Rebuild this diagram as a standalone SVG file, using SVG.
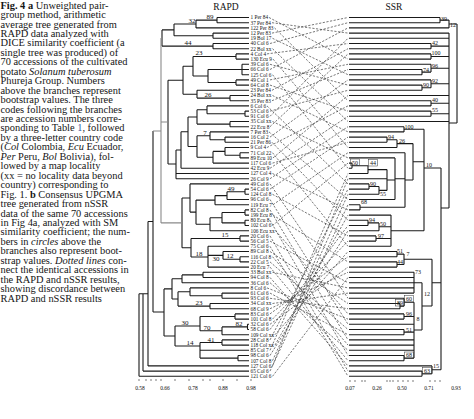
<svg xmlns="http://www.w3.org/2000/svg" width="474" height="419" viewBox="0 0 474 419">
<style>
.cap{font-family:"Liberation Serif","Times New Roman",serif;font-size:10.4px;fill:#151515}
.b{font-weight:bold}
.i{font-style:italic}
.lf{font-family:"Liberation Serif","Times New Roman",serif;font-size:5.3px;fill:#111}
.bs{font-family:"Liberation Serif","Times New Roman",serif;font-size:7px;fill:#111;text-anchor:middle}
.bs2{font-family:"Liberation Serif","Times New Roman",serif;font-size:6px;fill:#111;text-anchor:middle}
.ax{font-family:"Liberation Serif","Times New Roman",serif;font-size:5.5px;fill:#111;text-anchor:middle}
.hd{font-family:"Liberation Serif","Times New Roman",serif;font-size:9.5px;fill:#111;text-anchor:middle}
.tr{fill:none;stroke:#1a1a1a;stroke-width:1.1}
.gr{fill:none;stroke:#8a8a8a;stroke-width:1.1}
.tk{fill:none;stroke:#444;stroke-width:0.7}
.dl{stroke:#2e2e2e;stroke-width:0.65;stroke-dasharray:2.2 1.5}
.bx{fill:none;stroke:#333;stroke-width:0.5}
</style>
<rect width="474" height="419" fill="#fff"/>

<g id="caption">
<text class="cap">
<tspan x="0.5" y="8.6"><tspan class="b">Fig. 4</tspan> <tspan class="b">a</tspan> Unweighted pair-</tspan>
<tspan x="0.5" y="18.05">group method, arithmetic</tspan>
<tspan x="0.5" y="27.5">average tree generated from</tspan>
<tspan x="0.5" y="36.95">RAPD data analyzed with</tspan>
<tspan x="0.5" y="46.4">DICE similarity coefficient (a</tspan>
<tspan x="0.5" y="55.85">single tree was produced) of</tspan>
<tspan x="0.5" y="65.3">70 accessions of the cultivated</tspan>
<tspan x="0.5" y="74.75">potato <tspan class="i">Solanum tuberosum</tspan></tspan>
<tspan x="0.5" y="84.2">Phureja Group. Numbers</tspan>
<tspan x="0.5" y="93.65">above the branches represent</tspan>
<tspan x="0.5" y="103.1">bootstrap values. The three</tspan>
<tspan x="0.5" y="112.55">codes following the branches</tspan>
<tspan x="0.5" y="122">are accession numbers corre-</tspan>
<tspan x="0.5" y="131.45">sponding to Table <tspan fill="#3b5ba5">1</tspan>, followed</tspan>
<tspan x="0.5" y="140.9">by a three-letter country code</tspan>
<tspan x="0.5" y="150.35">(<tspan class="i">Col</tspan> Colombia, <tspan class="i">Ecu</tspan> Ecuador,</tspan>
<tspan x="0.5" y="159.8"><tspan class="i">Per</tspan> Peru, <tspan class="i">Bol</tspan> Bolivia), fol-</tspan>
<tspan x="0.5" y="169.25">lowed by a map locality</tspan>
<tspan x="0.5" y="178.7">(xx = no locality data beyond</tspan>
<tspan x="0.5" y="188.15">country) corresponding to</tspan>
<tspan x="0.5" y="197.6">Fig. 1. <tspan class="b">b</tspan> Consensus UPGMA</tspan>
<tspan x="0.5" y="207.05">tree generated from nSSR</tspan>
<tspan x="0.5" y="216.5">data of the same 70 accessions</tspan>
<tspan x="0.5" y="225.95">in Fig 4a, analyzed with SM</tspan>
<tspan x="0.5" y="235.4">similarity coefficient; the num-</tspan>
<tspan x="0.5" y="244.85">bers in <tspan class="i">circles</tspan> above the</tspan>
<tspan x="0.5" y="254.3">branches also represent boot-</tspan>
<tspan x="0.5" y="263.75">strap values. <tspan class="i">Dotted lines</tspan> con-</tspan>
<tspan x="0.5" y="273.2">nect the identical accessions in</tspan>
<tspan x="0.5" y="282.65">the RAPD and nSSR results,</tspan>
<tspan x="0.5" y="292.1">showing discordance between</tspan>
<tspan x="0.5" y="301.55">RAPD and nSSR results</tspan>
</text>
</g>

<g id="headers">
<text class="hd" x="226" y="9.5">RAPD</text>
<text class="hd" x="394" y="9.5">SSR</text>
</g>

<g id="connectors">
<g id="rapd-tree">
<path class="tr" d="M217 17.5V22.7M217 17.5H249M217 22.7H249M196 20.1V27.9M196 20.1H217M196 27.9H249M213 33.1V38.3M213 33.1H249M213 38.3H249M174 24V35.7M174 24H196M174 35.7H213M213 43.5V48.7M213 43.5H249M213 48.7H249M162 29.9V46.1M162 29.9H174M162 46.1H213
M236 53.9V59.1M236 53.9H249M236 59.1H249M242 64.3V74.7M242 64.3H249M242 69.5H249M242 74.7H249M236 79.9V85.1M236 79.9H249M236 85.1H249M208 69.5V82.5M208 69.5H242M208 82.5H236M193 56.5V76M193 56.5H236M193 76H208M230 95.5V100.7M230 95.5H249M230 100.7H249M197 90.3V98.1M197 90.3H249M197 98.1H230M183 66.2V94.2M183 66.2H193M183 94.2H197
M245 111.1V116.3M245 111.1H249M245 116.3H249M207 105.9V113.7M207 105.9H249M207 113.7H245M230 121.5V126.7M230 121.5H249M230 126.7H249M197 109.8V124.1M197 109.8H207M197 124.1H230M225 137.1V142.3M225 137.1H249M225 142.3H249M210 131.9V139.7M210 131.9H249M210 139.7H225M240 152.7V157.9M240 152.7H249M240 157.9H249M225 147.5V155.3M225 147.5H249M225 155.3H240M213 151.4V163.1M213 151.4H225M213 163.1H249M197 135.8V157.3M197 135.8H210M197 157.3H213M188 117V146.5M188 117H197M188 146.5H197M181 131.8V168.3M181 131.8H188M181 168.3H249M176 150V178.7M176 150H181M176 173.5H249M176 178.7H249M168 80.2V164M168 80.2H183M168 164H176
M245 189.1V194.3M245 189.1H249M245 194.3H249M227 191.7V199.5M227 191.7H245M227 199.5H249M215 195.6V204.7M215 195.6H227M215 204.7H249M245 209.9V215.1M245 209.9H249M245 215.1H249M245 220.3V225.5M245 220.3H249M245 225.5H249M222 212.5V222.9M222 212.5H245M222 222.9H245M210 217.7V230.7M210 217.7H222M210 230.7H249M196 200.1V224.2M196 200.1H215M196 224.2H210M190 183.9V212.1M190 183.9H249M190 212.1H196
M240 235.9V241.1M240 235.9H249M240 241.1H249M240 256.7V261.9M240 256.7H249M240 261.9H249M223 251.5V259.3M223 251.5H249M223 259.3H240M208 246.3V267.1M208 246.3H249M208 255.4H223M208 267.1H249M191 238.5V257M191 238.5H240M191 257H208M182 198V247.7M182 198H190M182 247.7H191
M203 272.3V277.5M203 272.3H249M203 277.5H249M182 274.9V282.7M182 274.9H203M182 282.7H249M222 293.1V298.3M222 293.1H249M222 298.3H249M190 287.9V295.7M190 287.9H249M190 295.7H222M210 303.5V308.7M210 303.5H249M210 308.7H249M178 291.8V306.1M178 291.8H190M178 306.1H210M172 278.8V299M172 278.8H182M172 299H178
M235 313.9V319.1M235 313.9H249M235 319.1H249M247.5 324.3V329.5M247.5 324.3H249M247.5 329.5H249M222 326.9V334.7M222 326.9H247.5M222 334.7H249M200 316.5V330.8M200 316.5H235M200 330.8H222M222 339.9V345.1M222 339.9H249M222 345.1H249M238 355.5V360.7M238 355.5H249M238 360.7H249M200 342.5V358.1M200 342.5H222M200 350.3H249M200 358.1H238M175 326V346M175 326H200M175 346H200M164 288.9V336M164 288.9H172M164 336H175
M153 131V312M153 312H164M148 221.5V365.9M148 221.5H153M148 365.9H249M143 293.7V371.1M143 293.7H148M143 371.1H249M139 293.7V376.3M139 293.7H143M139 376.3H249"/>
<path class="gr" d="M161 38V222.9M161 38H162M161 122H168M161 222.9H182M153 131H161"/>
</g>

<g id="ssr-tree">
<path class="tr" d="M440 17.5V22.7M349 17.5H440M349 22.7H440M449 20.1V27.9M440 20.1H449M349 27.9H449M457 24V123M449 24H457M449 123H457
M449 33.1V208M349 33.1H449M349 38.3H449M431 46.1H449M431 56.5H449M431 68.2H449M431 83.8H449M349 95.5H449M431 103.3H449M431 113.7H449M349 121.5H449M441 208H449
M431 43.5V48.7M349 43.5H431M349 48.7H431M431 53.9V59.1M349 53.9H431M349 59.1H431M422 69.5V74.7M349 69.5H422M349 74.7H422M431 64.3V72.1M349 64.3H431M422 72.1H431M422 85.1V90.3M349 85.1H422M349 90.3H422M431 79.9V87.7M349 79.9H431M422 87.7H431M431 100.7V105.9M349 100.7H431M349 105.9H431M431 111.1V116.3M349 111.1H431M349 116.3H431
M441 168V369.8M424 168H441M432 282.7H441M432 369.8H441M424 129.3V230.7M404 129.3H424M413 161.8H424M391 230.7H424
M404 126.7V131.9M349 126.7H404M349 131.9H404M387 137.1V142.3M349 137.1H387M349 142.3H387M397 139.7V147.5M387 139.7H397M349 147.5H397
M352 163.1V168.3M349 163.1H352M349 168.3H352M368 165.7V173.5M352 165.7H368M349 173.5H368M369 183.9V189.1M349 183.9H369M349 189.1H369M379 186.5V194.3M369 186.5H379M349 194.3H379M360 204.7V209.9M349 204.7H360M349 209.9H360
M387 169.6V190.4M368 169.6H387M349 178.7H387M379 190.4H387M395 157.9V199.5M349 157.9H395M387 180H395M349 199.5H395M405 152.7V207.3M349 152.7H405M395 178.7H405M360 207.3H405M413 143.6V180M397 143.6H413M405 180H413
M368 220.3V225.5M349 220.3H368M349 225.5H368M379 222.9V230.7M368 222.9H379M349 230.7H379M376 235.9V241.1M349 235.9H376M349 241.1H376M391 215.1V246.3M349 215.1H391M379 226.8H391M376 238.5H391M349 246.3H391
M397 251.5V256.7M349 251.5H397M349 256.7H397M397 261.9V267.1M349 261.9H397M349 267.1H397M404 254.1V264.5M397 254.1H404M397 264.5H404
M414 272.3V293.1M349 272.3H414M349 277.5H414M349 282.7H414M349 287.9H414M349 293.1H414
M400 303.5V308.7M349 303.5H400M349 308.7H400M404 298.3V306.1M349 298.3H404M400 306.1H404M404 313.9V319.1M349 313.9H404M349 319.1H404M404 329.5V334.7M349 329.5H404M349 334.7H404M404 355.5V360.7M349 355.5H404M349 360.7H404
M414 302.2V358.1M404 302.2H414M404 316.5H414M349 324.3H414M404 332.1H414M349 339.9H414M349 345.1H414M349 350.3H414M404 358.1H414
M422 282.7V330M414 282.7H422M414 330H422M432 259.3V306M404 259.3H432M422 306H432M422 371.1V376.3M349 371.1H422M349 376.3H422M432 365.9V373.7M349 365.9H432M422 373.7H432"/>
</g>

<g id="dotted-links">
<line class="dl" x1="269" y1="17.5" x2="348" y2="59.1"/>
<line class="dl" x1="272" y1="22.7" x2="348" y2="33.1"/>
<line class="dl" x1="274.5" y1="27.9" x2="348" y2="100.7"/>
<line class="dl" x1="272" y1="33.1" x2="348" y2="17.5"/>
<line class="dl" x1="272.5" y1="38.3" x2="348" y2="74.7"/>
<line class="dl" x1="270" y1="43.5" x2="348" y2="22.7"/>
<line class="dl" x1="272.5" y1="48.7" x2="348" y2="121.5"/>
<line class="dl" x1="267" y1="53.9" x2="348" y2="43.5"/>
<line class="dl" x1="273" y1="59.1" x2="348" y2="147.5"/>
<line class="dl" x1="270" y1="64.3" x2="348" y2="85.1"/>
<line class="dl" x1="270" y1="69.5" x2="348" y2="27.9"/>
<line class="dl" x1="272.5" y1="74.7" x2="348" y2="168.3"/>
<line class="dl" x1="270" y1="79.9" x2="348" y2="64.3"/>
<line class="dl" x1="270" y1="85.1" x2="348" y2="111.1"/>
<line class="dl" x1="272" y1="90.3" x2="348" y2="48.7"/>
<line class="dl" x1="272.5" y1="95.5" x2="348" y2="131.9"/>
<line class="dl" x1="272" y1="100.7" x2="348" y2="69.5"/>
<line class="dl" x1="267" y1="105.9" x2="348" y2="183.9"/>
<line class="dl" x1="270" y1="111.1" x2="348" y2="90.3"/>
<line class="dl" x1="270" y1="116.3" x2="348" y2="38.3"/>
<line class="dl" x1="272.5" y1="121.5" x2="348" y2="157.9"/>
<line class="dl" x1="270" y1="126.7" x2="348" y2="53.9"/>
<line class="dl" x1="269" y1="131.9" x2="348" y2="199.5"/>
<line class="dl" x1="270" y1="137.1" x2="348" y2="79.9"/>
<line class="dl" x1="272" y1="142.3" x2="348" y2="220.3"/>
<line class="dl" x1="267" y1="147.5" x2="348" y2="105.9"/>
<line class="dl" x1="272.5" y1="152.7" x2="348" y2="246.3"/>
<line class="dl" x1="273" y1="157.9" x2="348" y2="95.5"/>
<line class="dl" x1="272.5" y1="163.1" x2="348" y2="142.3"/>
<line class="dl" x1="270" y1="168.3" x2="348" y2="116.3"/>
<line class="dl" x1="272.5" y1="173.5" x2="348" y2="209.9"/>
<line class="dl" x1="270" y1="178.7" x2="348" y2="126.7"/>
<line class="dl" x1="270" y1="183.9" x2="348" y2="298.3"/>
<line class="dl" x1="270" y1="189.1" x2="348" y2="137.1"/>
<line class="dl" x1="272.5" y1="194.3" x2="348" y2="235.9"/>
<line class="dl" x1="270" y1="199.5" x2="348" y2="324.3"/>
<line class="dl" x1="273" y1="204.7" x2="348" y2="152.7"/>
<line class="dl" x1="270" y1="209.9" x2="348" y2="339.9"/>
<line class="dl" x1="273" y1="215.1" x2="348" y2="261.9"/>
<line class="dl" x1="270" y1="220.3" x2="348" y2="355.5"/>
<line class="dl" x1="272.5" y1="225.5" x2="348" y2="163.1"/>
<line class="dl" x1="275.5" y1="230.7" x2="348" y2="313.9"/>
<line class="dl" x1="270" y1="235.9" x2="348" y2="371.1"/>
<line class="dl" x1="270" y1="241.1" x2="348" y2="282.7"/>
<line class="dl" x1="270" y1="246.3" x2="348" y2="376.3"/>
<line class="dl" x1="270" y1="251.5" x2="348" y2="303.5"/>
<line class="dl" x1="272.5" y1="256.7" x2="348" y2="345.1"/>
<line class="dl" x1="270" y1="261.9" x2="348" y2="329.5"/>
<line class="dl" x1="270" y1="267.1" x2="348" y2="360.7"/>
<line class="dl" x1="272.5" y1="272.3" x2="348" y2="287.9"/>
<line class="dl" x1="270" y1="277.5" x2="348" y2="365.9"/>
<line class="dl" x1="270" y1="282.7" x2="348" y2="350.3"/>
<line class="dl" x1="267" y1="287.9" x2="348" y2="319.1"/>
<line class="dl" x1="270" y1="293.1" x2="348" y2="334.7"/>
<line class="dl" x1="270" y1="298.3" x2="348" y2="308.7"/>
<line class="dl" x1="272.5" y1="303.5" x2="348" y2="293.1"/>
<line class="dl" x1="270" y1="308.7" x2="348" y2="272.3"/>
<line class="dl" x1="270" y1="313.9" x2="348" y2="256.7"/>
<line class="dl" x1="272.5" y1="319.1" x2="348" y2="241.1"/>
<line class="dl" x1="270" y1="324.3" x2="348" y2="267.1"/>
<line class="dl" x1="270" y1="329.5" x2="348" y2="225.5"/>
<line class="dl" x1="275" y1="334.7" x2="348" y2="251.5"/>
<line class="dl" x1="270" y1="339.9" x2="348" y2="189.1"/>
<line class="dl" x1="275" y1="345.1" x2="348" y2="215.1"/>
<line class="dl" x1="270" y1="350.3" x2="348" y2="173.5"/>
<line class="dl" x1="270" y1="355.5" x2="348" y2="230.7"/>
<line class="dl" x1="272.5" y1="360.7" x2="348" y2="194.3"/>
<line class="dl" x1="272.5" y1="365.9" x2="348" y2="178.7"/>
<line class="dl" x1="270" y1="371.1" x2="348" y2="204.7"/>
<line class="dl" x1="272.5" y1="376.3" x2="348" y2="277.5"/>
</g>
</g>

<g id="rapd-leaves">
<g id="r1"><text class="lf" x="250.5" y="19.3">1 Per 84</text></g>
<g id="r2"><text class="lf" x="250.5" y="24.5">37 Per 84</text></g>
<g id="r3"><text class="lf" x="250.5" y="29.7">122 Per 83</text></g>
<g id="r4"><text class="lf" x="250.5" y="34.9">12 Per 83</text></g>
<g id="r5"><text class="lf" x="250.5" y="40.1">19 Bol 17</text></g>
<g id="r6"><text class="lf" x="250.5" y="45.3">40 Col 6</text></g>
<g id="r7"><text class="lf" x="250.5" y="50.5">22 Bol xx</text></g>
<g id="r8"><text class="lf" x="250.5" y="55.7">4 Col 4</text></g>
<g id="r9"><text class="lf" x="250.5" y="60.9">130 Ecu 9</text></g>
<g id="r10"><text class="lf" x="250.5" y="66.1">39 Col 6</text></g>
<g id="r11"><text class="lf" x="250.5" y="71.3">66 Col 6</text></g>
<g id="r12"><text class="lf" x="250.5" y="76.5">125 Col 6</text></g>
<g id="r13"><text class="lf" x="250.5" y="81.7">49 Col 1</text></g>
<g id="r14"><text class="lf" x="250.5" y="86.9">64 Col 8</text></g>
<g id="r15"><text class="lf" x="250.5" y="92.1">23 Per 84</text></g>
<g id="r16"><text class="lf" x="250.5" y="97.3">24 Bol xx</text></g>
<g id="r17"><text class="lf" x="250.5" y="102.5">35 Per 83</text></g>
<g id="r18"><text class="lf" x="250.5" y="107.7">6 Col 6</text></g>
<g id="r19"><text class="lf" x="250.5" y="112.9">53 Col 6</text></g>
<g id="r20"><text class="lf" x="250.5" y="118.1">91 Col 6</text></g>
<g id="r21"><text class="lf" x="250.5" y="123.3">35 Col xx</text></g>
<g id="r22"><text class="lf" x="250.5" y="128.5">22 Ecu 8</text></g>
<g id="r23"><text class="lf" x="250.5" y="133.7">7 Per 83</text></g>
<g id="r24"><text class="lf" x="250.5" y="138.9">16 Col 2</text></g>
<g id="r25"><text class="lf" x="250.5" y="144.1">21 Per 86</text></g>
<g id="r26"><text class="lf" x="250.5" y="149.3">9 Col 4</text></g>
<g id="r27"><text class="lf" x="250.5" y="154.5">71 Col 22</text></g>
<g id="r28"><text class="lf" x="250.5" y="159.7">89 Ecu 10</text></g>
<g id="r29"><text class="lf" x="250.5" y="164.9">117 Col 6</text></g>
<g id="r30"><text class="lf" x="250.5" y="170.1">42 Ecu 9</text></g>
<g id="r31"><text class="lf" x="250.5" y="175.3">127 Col 4</text></g>
<g id="r32"><text class="lf" x="250.5" y="180.5">26 Col 9</text></g>
<g id="r33"><text class="lf" x="250.5" y="185.7">49 Col 6</text></g>
<g id="r34"><text class="lf" x="250.5" y="190.9">54 Col 6</text></g>
<g id="r35"><text class="lf" x="250.5" y="196.1">124 Col 8</text></g>
<g id="r36"><text class="lf" x="250.5" y="201.3">96 Col 6</text></g>
<g id="r37"><text class="lf" x="250.5" y="206.5">119 Ecu 7</text></g>
<g id="r38"><text class="lf" x="250.5" y="211.7">82 Col 8</text></g>
<g id="r39"><text class="lf" x="250.5" y="216.9">199 Ecu 8</text></g>
<g id="r40"><text class="lf" x="250.5" y="222.1">80 Ecu 8</text></g>
<g id="r41"><text class="lf" x="250.5" y="227.3">102 Col 6</text></g>
<g id="r42"><text class="lf" x="250.5" y="232.5">106 Ecu xx</text></g>
<g id="r43"><text class="lf" x="250.5" y="237.7">20 Col 6</text></g>
<g id="r44"><text class="lf" x="250.5" y="242.9">56 Col 5</text></g>
<g id="r45"><text class="lf" x="250.5" y="248.1">75 Col 6</text></g>
<g id="r46"><text class="lf" x="250.5" y="253.3">89 Col 8</text></g>
<g id="r47"><text class="lf" x="250.5" y="258.5">116 Col 8</text></g>
<g id="r48"><text class="lf" x="250.5" y="263.7">22 Col 5</text></g>
<g id="r49"><text class="lf" x="250.5" y="268.9">20 Ecu 7</text></g>
<g id="r50"><text class="lf" x="250.5" y="274.1">33 Bol xx</text></g>
<g id="r51"><text class="lf" x="250.5" y="279.3">94 Col 8</text></g>
<g id="r52"><text class="lf" x="250.5" y="284.5">36 Col 6</text></g>
<g id="r53"><text class="lf" x="250.5" y="289.7">8 Col 6</text></g>
<g id="r54"><text class="lf" x="250.5" y="294.9">61 Col 6</text></g>
<g id="r55"><text class="lf" x="250.5" y="300.1">93 Col 6</text></g>
<g id="r56"><text class="lf" x="250.5" y="305.3">34 Col xx</text></g>
<g id="r57"><text class="lf" x="250.5" y="310.5">68 Col 9</text></g>
<g id="r58"><text class="lf" x="250.5" y="315.7">83 Col 6</text></g>
<g id="r59"><text class="lf" x="250.5" y="320.9">101 Col 8</text></g>
<g id="r60"><text class="lf" x="250.5" y="326.1">32 Col 6</text></g>
<g id="r61"><text class="lf" x="250.5" y="331.3">58 Col 6</text></g>
<g id="r62"><text class="lf" x="250.5" y="336.5">109 Col xx</text></g>
<g id="r63"><text class="lf" x="250.5" y="341.7">28 Col 8</text></g>
<g id="r64"><text class="lf" x="250.5" y="346.9">118 Col xx</text></g>
<g id="r65"><text class="lf" x="250.5" y="352.1">85 Col 7</text></g>
<g id="r66"><text class="lf" x="250.5" y="357.3">98 Col 6</text></g>
<g id="r67"><text class="lf" x="250.5" y="362.5">107 Col 8</text></g>
<g id="r68"><text class="lf" x="250.5" y="367.7">127 Col 6</text></g>
<g id="r69"><text class="lf" x="250.5" y="372.9">65 Col 6</text></g>
<g id="r70"><text class="lf" x="250.5" y="378.1">121 Col 6</text></g>
</g>

<g id="rapd-bootstrap">
<text class="bs" x="210" y="19">89</text>
<text class="bs" x="192" y="23">32</text>
<text class="bs" x="188" y="45">44</text>
<text class="bs" x="199" y="55.3">23</text>
<text class="bs" x="208" y="97">26</text>
<text class="bs" x="205" y="134.8">7</text>
<text class="bs" x="231" y="190.7">49</text>
<text class="bs" x="225" y="237.3">15</text>
<text class="bs" x="199" y="256">18</text>
<text class="bs" x="216" y="260.5">30</text>
<text class="bs" x="230" y="258.3">12</text>
<text class="bs" x="199" y="305">23</text>
<text class="bs" x="185" y="325">30</text>
<text class="bs" x="207" y="329.8">70</text>
<text class="bs" x="239" y="325.9">82</text>
<text class="bs" x="211" y="341.5">41</text>
<text class="bs" x="190" y="345">14</text>
</g>

<g id="ssr-bootstrap">
<text class="bs2" x="444" y="21">39</text>
<text class="bs2" x="453" y="27">12</text>
<text class="bs2" x="435" y="45">42</text>
<text class="bs2" x="436" y="55">100</text>
<text class="bs2" x="435" y="67.5">96</text>
<text class="bs2" x="426" y="71.5">74</text>
<text class="bs2" x="435" y="82.5">92</text>
<text class="bs2" x="426" y="87">90</text>
<text class="bs2" x="435" y="101.5">40</text>
<text class="bs2" x="435" y="111.5">55</text>
<text class="bs2" x="409" y="128.5">100</text>
<text class="bs2" x="391" y="139">94</text>
<text class="bs2" x="402" y="143">26</text>
<text class="bs2" x="429" y="166.5">10</text>
<text class="bs2" x="373" y="165">44</text>
<rect class="bx" x="368.5" y="159.5" width="9" height="6.5"/>
<text class="bs2" x="355" y="164.5">50</text>
<rect class="bx" x="350.5" y="159" width="9" height="6.5"/>
<text class="bs2" x="373" y="185.5">90</text>
<text class="bs2" x="383" y="195.5">55</text>
<text class="bs2" x="364" y="204">68</text>
<text class="bs2" x="372" y="222.3">94</text>
<text class="bs2" x="383" y="226.3">50</text>
<text class="bs2" x="381" y="238">97</text>
<text class="bs2" x="400" y="252.5">51</text>
<text class="bs2" x="408" y="256">7</text>
<text class="bs2" x="400" y="264">44</text>
<text class="bs2" x="418" y="274">73</text>
<text class="bs2" x="427" y="296">12</text>
<text class="bs2" x="409" y="300.5">60</text>
<rect class="bx" x="404.5" y="295.5" width="9" height="6.5"/>
<text class="bs2" x="400" y="304.5">89</text>
<rect class="bx" x="395.5" y="299.5" width="9" height="6.5"/>
<text class="bs2" x="409" y="315.5">96</text>
<text class="bs2" x="418" y="321">8</text>
<text class="bs2" x="409" y="331.5">51</text>
<text class="bs2" x="409" y="357">68</text>
<rect class="bx" x="404.5" y="352" width="9" height="6.5"/>
<text class="bs2" x="427" y="372.5">63</text>
<rect class="bx" x="422.5" y="367.5" width="9" height="6.5"/>
<text class="bs2" x="436" y="367.5">15</text>
</g>

<g id="axes">
<path class="tk" d="M139 379v2M146 379v2M151 379v2M156 379v2M161 379v2M175 379v2M189 379v2M203 379v2M210 379v2M223 379v2M237 379v2M251 379v2"/>
<text class="ax" x="140" y="390">0.58</text>
<text class="ax" x="165" y="390">0.66</text>
<text class="ax" x="193" y="390">0.78</text>
<text class="ax" x="223" y="390">0.88</text>
<text class="ax" x="251" y="390">0.98</text>
<path class="tk" d="M350 380v2M355 380v2M362 380v2M365 380v2M387 380v2M390 380v2M393 380v2M398 380v2M403 380v2M408 380v2M413 380v2M430 380v2M435 380v2M440 380v2"/>
<text class="ax" x="350" y="390">0.07</text>
<text class="ax" x="377" y="390">0.26</text>
<text class="ax" x="402" y="390">0.50</text>
<text class="ax" x="429" y="390">0.71</text>
<text class="ax" x="456" y="390">0.93</text>
</g>
</svg>
